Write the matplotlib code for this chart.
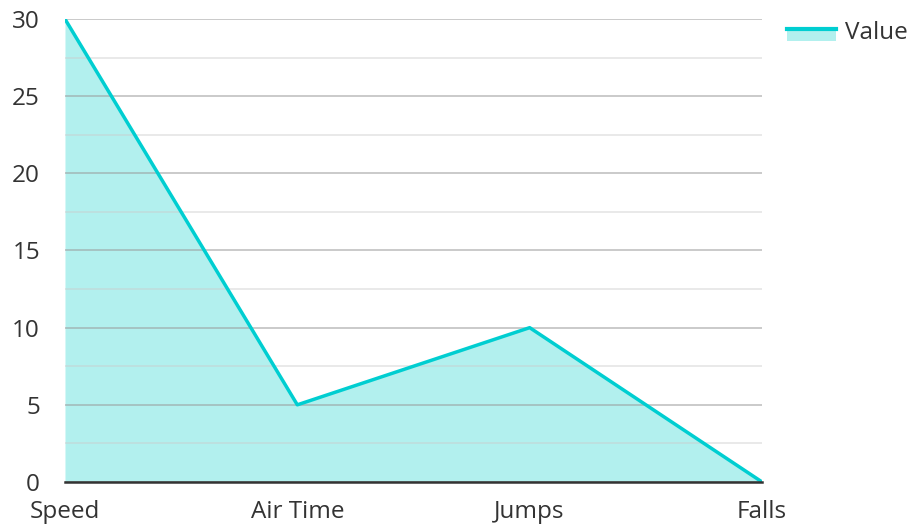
import matplotlib.pyplot as plt
from matplotlib.legend_handler import HandlerBase
from matplotlib.patches import Rectangle
from matplotlib.lines import Line2D

plt.rcParams['font.family'] = ['Open Sans', 'DejaVu Sans']

categories = ['Speed', 'Air Time', 'Jumps', 'Falls']
values = [30, 5, 10, 0]

line_color = '#00CED1'
fill_color = '#B2F0EE'


class AreaHandler(HandlerBase):
    # fill patch with the line on its top edge, like the reference legend
    def create_artists(self, legend, orig_handle, xdescent, ydescent,
                       width, height, fontsize, trans):
        top = height * 0.6 - ydescent
        bottom = top - height * 0.85
        rect = Rectangle((-xdescent, bottom), width, top - bottom, facecolor=fill_color,
                         edgecolor='none', transform=trans)
        ln = Line2D([-xdescent, -xdescent + width], [top, top],
                    color=line_color, lw=3, transform=trans)
        return [rect, ln]


fig = plt.figure(figsize=(9.1, 5.24), dpi=100)
ax = fig.add_axes([0.0714, 0.0802, 0.766, 0.8835])

x = list(range(len(categories)))
ax.fill_between(x, values, 0, color=fill_color, lw=0, zorder=1)
ax.plot(x, values, color=line_color, lw=2.5, zorder=3)

ax.set_xlim(0, len(categories) - 1)
ax.set_ylim(0, 30)
ax.set_xticks(x)
ax.set_xticklabels(categories)
ax.set_yticks(range(0, 31, 5))
ax.set_yticks([2.5, 7.5, 12.5, 17.5, 22.5, 27.5], minor=True)

ax.grid(axis='y', which='major', color='#999999', alpha=0.6, lw=1.2, zorder=2)
ax.grid(axis='y', which='minor', color='#cccccc', alpha=0.5, lw=1.2, zorder=2)
ax.set_axisbelow(False)

for s in ['left', 'right', 'top']:
    ax.spines[s].set_visible(False)
ax.spines['bottom'].set_color('#333333')
ax.spines['bottom'].set_linewidth(1.8)
ax.spines['bottom'].set_zorder(4)

ax.tick_params(axis='both', which='both', length=0, labelsize=17.5, labelcolor='#333333')
ax.tick_params(axis='x', pad=13)
ax.tick_params(axis='y', pad=18)

proxy = Rectangle((0, 0), 1, 1)
fig.legend([proxy], ['Value'], handler_map={Rectangle: AreaHandler()},
           loc='upper left', bbox_to_anchor=(0.865, 0.96), frameon=False,
           fontsize=17.5, handlelength=2.0, handleheight=0.55, handletextpad=0.4,
           borderpad=0, borderaxespad=0, labelcolor='#333333')

fig.savefig('out.png', dpi=100)
